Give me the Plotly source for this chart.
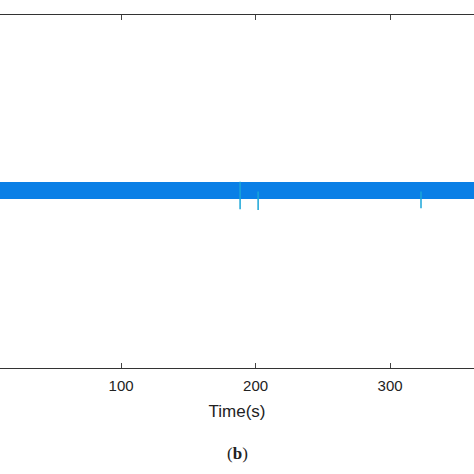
import plotly.graph_objects as go

# main band (dense signal rendered as solid strip)
band_t = [0, 370]
band_y = [0.005, 0.005]
# spikes: time, low, high
spike_t = [188.5, 201.9, 323.0]
spike_lo = [-0.10, -0.105, -0.095]
spike_hi = [0.055, 0.0, 0.0]
tick_vals = [100, 200, 300]

fig = go.Figure()
fig.add_trace(go.Scatter(x=band_t, y=band_y, mode="lines",
                         line=dict(color="#0a7fe6", width=17), hoverinfo="skip"))
for t, lo, hi in zip(spike_t, spike_lo, spike_hi):
    fig.add_trace(go.Scatter(x=[t, t], y=[lo, hi], mode="lines",
                             line=dict(color="#1aa6d8", width=1.5), hoverinfo="skip"))

fig.update_layout(
    width=474, height=474, showlegend=False,
    paper_bgcolor="white", plot_bgcolor="white",
    margin=dict(l=0, r=0, t=15, b=106),
    font=dict(family="Liberation Sans, Arial", color="#222"),
    xaxis=dict(range=[10, 362.4], tickvals=tick_vals, ticks="inside", ticklen=5,
               mirror="ticks", showline=True, linecolor="#333", linewidth=1,
               showgrid=False, zeroline=False, tickfont=dict(size=15),
               ticklabelstandoff=4,
               title=dict(text="Time(s)", font=dict(size=17), standoff=12)),
    yaxis=dict(range=[-1, 1], showticklabels=False, ticks="", mirror=True,
               showline=True, linecolor="#333", showgrid=False, zeroline=False),
    annotations=[dict(text="(<b>b</b>)", x=0.5, y=-0.275, xref="paper", yref="paper",
                      showarrow=False, font=dict(size=17, family="Liberation Serif"))],
)
fig.write_html("out.html", config={"displayModeBar": False},
               post_script="document.body.style.margin='0';")
